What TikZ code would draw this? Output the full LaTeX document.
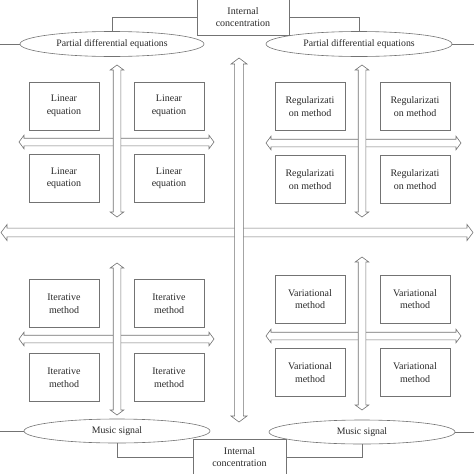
\documentclass[tikz,border=0pt]{standalone}
\usepackage{fontspec}
\setmainfont{Liberation Serif}
\usetikzlibrary{calc,shapes.geometric}

\begin{document}
\begin{tikzpicture}[x=1pt,y=-1pt]
      \newcommand{\boxw}[0]{70pt}
      \newcommand{\boxh}[0]{48pt}
      \newcommand{\shaftw}[0]{3.8}
      \newcommand{\headw}[0]{6.8}
      \newcommand{\headl}[0]{5}

      % double headed block arrows between two named coordinates
      \newcommand{\vdbl}[2]{\draw[dblarrow] (#1) -- ($(#1)+(\headw,\headl)$) -- ($(#1)+(\shaftw,\headl)$)
        -- ($(#2)+(\shaftw,-\headl)$) -- ($(#2)+(\headw,-\headl)$) -- (#2) -- ($(#2)+(-\headw,-\headl)$)
        -- ($(#2)+(-\shaftw,-\headl)$) -- ($(#1)+(-\shaftw,\headl)$) -- ($(#1)+(-\headw,\headl)$) -- cycle;}
      \newcommand{\hdbl}[2]{\draw[dblarrow] (#1) -- ($(#1)+(\headl,\headw)$) -- ($(#1)+(\headl,\shaftw)$)
        -- ($(#2)+(-\headl,\shaftw)$) -- ($(#2)+(-\headl,\headw)$) -- (#2) -- ($(#2)+(-\headl,-\headw)$)
        -- ($(#2)+(-\headl,-\shaftw)$) -- ($(#1)+(\headl,-\shaftw)$) -- ($(#1)+(\headl,-\headw)$) -- cycle;}

      \definecolor{linegray}{RGB}{115,115,115}
      \definecolor{textgray}{RGB}{40,40,40}

      \tikzstyle{box}=[
        draw=linegray,
        minimum width=\boxw,
        minimum height=\boxh,
        align=center,
        inner sep=1pt,
        line width=0.6pt,
        text=textgray,
        font=\fontsize{10}{12.5}\selectfont
      ]
      \tikzstyle{oval}=[
        draw=linegray,
        ellipse,
        minimum width=186pt,
        minimum height=25pt,
        inner sep=0pt,
        line width=0.6pt,
        text=textgray,
        font=\fontsize{9.8}{12.5}\selectfont
      ]
      \tikzstyle{dblarrow} = [draw=linegray, fill=white, line width=0.6pt, line join=miter]
      \tikzstyle{line} = [draw=linegray, line width=0.6pt]

      \useasboundingbox (0,0) rectangle (474,474);

      % top and bottom labels
      \node[box, minimum width=92pt, minimum height=36pt] (topconc) at (243,17) {Internal\\concentration};
      \node[box, minimum width=93pt, minimum height=36pt] (botconc) at (239.5,457) {Internal\\concentration};

      \node[oval, minimum width=184pt] (pdeleft)  at (112,44)  {Partial differential equations};
      \node[oval]                      (pderight) at (359,44)  {Partial differential equations};
      \node[oval, minimum height=24pt] (musleft)  at (117,431) {Music signal};
      \node[oval, minimum height=24pt] (musright) at (362,432) {Music signal};

      \coordinate (edgetl) at (0,44);
      \coordinate (edgetr) at (474,44);
      \coordinate (edgebl) at (0,431);
      \coordinate (edgebr) at (474,432);

      \draw[line] (topconc.west) -| (pdeleft.north);
      \draw[line] (topconc.east) -| (pderight.north);
      \draw[line] (musleft.south) |- (botconc.west);
      \draw[line] (musright.south) |- (botconc.east);
      \draw[line] (pdeleft.west) -- (edgetl);
      \draw[line] (pderight.east) -- (edgetr);
      \draw[line] (musleft.west) -- (edgebl);
      \draw[line] (musright.east) -- (edgebr);

      % upper left
      \node[box] (lin1) at (64,106)    {Linear\\equation};
      \node[box] (lin2) at (169,106)   {Linear\\equation};
      \node[box] (lin3) at (64,178.5)  {Linear\\equation};
      \node[box] (lin4) at (169,178.5) {Linear\\equation};
      \coordinate (tlw) at (19,142);
      \coordinate (tle) at (214,142);
      \coordinate (tln) at (117,65);
      \coordinate (tls) at (117,217);
      \hdbl{tlw}{tle}
      \vdbl{tln}{tls}

      % upper right
      \node[box] (reg1) at (310,106.5) {Regularizati\\on method};
      \node[box] (reg2) at (415,106.5) {Regularizati\\on method};
      \node[box] (reg3) at (310,179.5) {Regularizati\\on method};
      \node[box] (reg4) at (415,179.5) {Regularizati\\on method};
      \coordinate (trw) at (266,143);
      \coordinate (tre) at (461,143);
      \coordinate (trn) at (362,65);
      \coordinate (trs) at (362,217);
      \hdbl{trw}{tre}
      \vdbl{trn}{trs}

      % lower left
      \node[box] (ite1) at (64,303.5)  {Iterative\\method};
      \node[box] (ite2) at (169,303.5) {Iterative\\method};
      \node[box] (ite3) at (64,377.5)  {Iterative\\method};
      \node[box] (ite4) at (169,377.5) {Iterative\\method};
      \coordinate (blw) at (19,339);
      \coordinate (ble) at (214,339);
      \coordinate (bln) at (117,263);
      \coordinate (bls) at (117,415);
      \hdbl{blw}{ble}
      \vdbl{bln}{bls}

      % lower right
      \node[box] (var1) at (310,299)   {Variational\\method};
      \node[box] (var2) at (415,299)   {Variational\\method};
      \node[box] (var3) at (310,372.5) {Variational\\method};
      \node[box] (var4) at (415,372.5) {Variational\\method};
      \coordinate (brw) at (266,336);
      \coordinate (bre) at (461,336);
      \coordinate (brn) at (362,257);
      \coordinate (brs) at (362,410);
      \hdbl{brw}{bre}
      \vdbl{brn}{brs}

      % main axes
      \renewcommand{\shaftw}[0]{4.4}
      \renewcommand{\headw}[0]{8}
      \renewcommand{\headl}[0]{6}
      \coordinate (axw) at (1,232.5);
      \coordinate (axe) at (473,232.5);
      \coordinate (axn) at (239,58);
      \coordinate (axs) at (239,422);
      \hdbl{axw}{axe}
      \vdbl{axn}{axs}
    \end{tikzpicture}
\end{document}
